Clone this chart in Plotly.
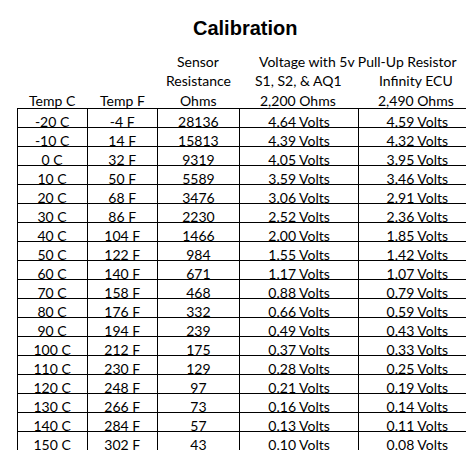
import plotly.graph_objects as go

temp_c = ["-20 C", "-10 C", "0 C", "10 C", "20 C", "30 C", "40 C", "50 C", "60 C",
          "70 C", "80 C", "90 C", "100 C", "110 C", "120 C", "130 C", "140 C", "150 C"]
temp_f = ["-4 F", "14 F", "32 F", "50 F", "68 F", "86 F", "104 F", "122 F", "140 F",
          "158 F", "176 F", "194 F", "212 F", "230 F", "248 F", "266 F", "284 F", "302 F"]
ohms = [28136, 15813, 9319, 5589, 3476, 2230, 1466, 984, 671,
        468, 332, 239, 175, 129, 97, 73, 57, 43]
volts_2200 = [4.64, 4.39, 4.05, 3.59, 3.06, 2.52, 2.00, 1.55, 1.17,
              0.88, 0.66, 0.49, 0.37, 0.28, 0.21, 0.16, 0.13, 0.10]
volts_2490 = [4.59, 4.32, 3.95, 3.46, 2.91, 2.36, 1.85, 1.42, 1.07,
              0.79, 0.59, 0.43, 0.33, 0.25, 0.19, 0.14, 0.11, 0.08]

W, H = 474, 450
FONT = "Lato"
cell_font = dict(family=FONT, size=14, color="black")

cols = [temp_c, temp_f, [str(o) for o in ohms],
        [f"{v:.2f} Volts" for v in volts_2200],
        [f"{v:.2f} Volts" for v in volts_2490]]

# first data row goes in the header so no empty header band is drawn
fig = go.Figure(go.Table(
    domain=dict(x=[9 / W, 468 / W], y=[0, 1 - 100 / H]),
    columnwidth=[70, 70, 82, 119, 117],
    header=dict(values=[c[0] for c in cols], height=19, align="center",
                fill_color="white", line=dict(color="black", width=1), font=cell_font),
    cells=dict(values=[c[1:] for c in cols], height=19, align="center",
               fill_color="white", line=dict(color="black", width=1), font=cell_font),
))

headers = [
    (44, 92, "Temp C"), (114, 92, "Temp F"),
    (190, 53, "Sensor"), (190, 72, "Resistance"), (190, 92, "Ohms"),
    (350, 53, "Voltage with 5v Pull-Up Resistor"),
    (290, 72, "S1, S2, & AQ1"), (290, 92, "2,200 Ohms"),
    (408, 72, "Infinity ECU"), (408, 92, "2,490 Ohms"),
]
for x, y, t in headers:
    fig.add_annotation(x=x, y=y, xref="x", yref="y", text=t, showarrow=False, font=cell_font)

fig.add_annotation(x=237, y=20, xref="x", yref="y", text="<b>Calibration</b>",
                   showarrow=False, font=dict(family="Liberation Sans", size=20, color="black"))

fig.update_layout(width=W, height=H, margin=dict(l=0, r=0, t=0, b=0),
                  paper_bgcolor="white", plot_bgcolor="white",
                  xaxis=dict(range=[0, W], visible=False, domain=[0, 1], fixedrange=True),
                  yaxis=dict(range=[H, 0], visible=False, domain=[0, 1], fixedrange=True))
fig.write_html("out.html")
